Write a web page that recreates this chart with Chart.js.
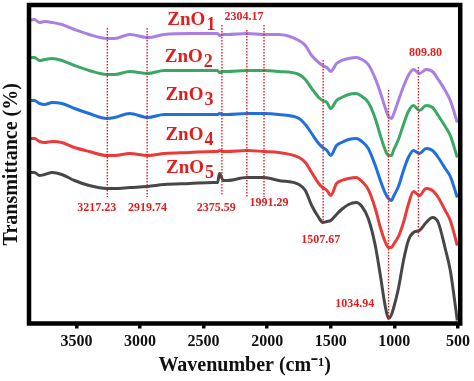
<!DOCTYPE html>
<html>
<head>
<meta charset="utf-8">
<script src="https://cdn.jsdelivr.net/npm/chart.js@4"></script>
<style>
  html, body { margin: 0; padding: 0; background: #fff; }
  #wrap { width: 474px; height: 381px; position: relative; }
</style>
</head>
<body>
<div id="wrap"><canvas id="c" width="474" height="381"></canvas></div>
<script>
// ---------- data ----------
const wavenumbers = [3880, 3830, 3790, 3750, 3690, 3615, 3515, 3400, 3260, 3200,
  3080, 2940, 2810, 2610, 2420, 2390, 2375, 2345, 2315, 2160,
  2025, 1910, 1750, 1700, 1650, 1595, 1563, 1530, 1500, 1455,
  1415, 1360, 1300, 1255, 1205, 1150, 1110, 1070, 1046, 1022,
  1007, 968, 928, 890, 850, 803, 750, 700, 655, 600,
  560, 505];

const zno1 = [303, 304, 301, 302, 301, 299, 294, 289, 285, 285,
  289, 286, 289, 290, 290, 290, 288, 289, 289, 290,
  289, 289, 283, 278, 268, 261, 258, 256, 252, 260,
  263, 265, 266, 264, 259, 245, 231, 215, 207, 205,
  209, 223, 237, 248, 254, 250, 254, 252, 244, 233,
  223, 201];
const zno2 = [266, 266, 263, 264, 265, 263, 258, 253, 249, 249,
  252, 250, 253, 253, 253, 253, 251, 252, 252, 253,
  253, 252, 249, 244, 235, 226, 223, 221, 215, 223,
  226, 229, 230, 227, 221, 205, 188, 173, 168, 168,
  173, 184, 199, 212, 218, 213, 218, 216, 208, 197,
  188, 166];
const zno3 = [223, 223, 220, 219, 221, 220, 215, 210, 205, 206,
  210, 206, 209, 209, 209, 209, 210, 209, 209, 210,
  210, 209, 205, 199, 190, 180, 176, 173, 168, 178,
  181, 184, 185, 182, 175, 158, 143, 130, 125, 123,
  127, 137, 153, 166, 173, 170, 175, 173, 166, 155,
  147, 126];
const zno4 = [185, 185, 182, 181, 182, 181, 176, 172, 168, 168,
  170, 168, 170, 171, 172, 172, 173, 172, 172, 173,
  172, 171, 166, 161, 151, 140, 136, 133, 128, 140,
  143, 145, 146, 142, 134, 115, 96, 81, 76, 76,
  79, 87, 101, 119, 132, 128, 135, 133, 126, 113,
  103, 78];
const zno5 = [151, 151, 148, 149, 151, 149, 143, 138, 135, 135,
  136, 137, 139, 140, 141, 141, 150, 143, 143, 146,
  146, 143, 139, 133, 118, 106, 101, 102, 103, 109,
  114, 119, 121, 117, 105, 78, 48, 16, 5, 9,
  15, 35, 63, 83, 91, 93, 101, 106, 101, 75,
  53, 3];

const seriesNames = ['ZnO1', 'ZnO2', 'ZnO3', 'ZnO4', 'ZnO5'];
const xTicks = [3500, 3000, 2500, 2000, 1500, 1000, 500];

// peak labels and the wavenumber where each dotted guide line is drawn
const peakLabels = ['3217.23', '2919.74', '2375.59', '2304.17', '1991.29', '1507.67', '1034.94', '809.80'];
const peakLines = [3257, 2944, 2356, 2160, 2025, 1560, 1046, 811];

// ---------- annotation layout (data coordinates) ----------
const layoutCfg = {
  lineSpan: [[295.5, 126.5], [295.5, 126.5], [298.5, 128.5], [293.5, 126.5],
             [298.5, 126.5], [263.5, 100.5], [233.5, 0], [256.5, 86.5]],
  labelAt: [[3341, 115.5], [2941, 115.5], [2401, 115.5], [2182, 306.5],
            [1986, 120.5], [1579, 83.5], [1312, 19.5], [756, 270.5]],
  nameAt: [[2785, 298.5], [2805, 261.5], [2800, 223.5], [2800, 183.5], [2795, 150.5]]
};

const colors = ['#a97fe3', '#3aa865', '#1f6fdc', '#ea3b3b', '#474747'];
const red = '#e01e1e';
const serif = '"Liberation Serif", "Times New Roman", serif';

const seriesData = [zno1, zno2, zno3, zno4, zno5];
const datasets = seriesData.map((vals, i) => ({
  label: seriesNames[i],
  data: wavenumbers.map((w, k) => ({ x: w, y: vals[k] })),
  borderColor: colors[i],
  borderWidth: 3,
  pointRadius: 0,
  tension: 0.25,
  cubicInterpolationMode: 'monotone',
  fill: false,
  order: 2
}));
peakLines.forEach((w, i) => {
  datasets.push({
    label: 'peak ' + peakLabels[i],
    data: [{ x: w, y: layoutCfg.lineSpan[i][0] }, { x: w, y: layoutCfg.lineSpan[i][1] }],
    borderColor: red,
    borderWidth: 1.4,
    borderDash: [1.5, 1.5],
    pointRadius: 0,
    fill: false,
    order: 1
  });
});

const annot = {
  id: 'annot',
  afterDatasetsDraw(chart) {
    const { ctx } = chart;
    const x = chart.scales.x, y = chart.scales.y;
    ctx.save();
    ctx.fillStyle = red;
    ctx.font = 'bold 12px ' + serif;
    ctx.textAlign = 'center';
    ctx.textBaseline = 'middle';
    peakLabels.forEach((t, i) => {
      ctx.fillText(t, x.getPixelForValue(layoutCfg.labelAt[i][0]), y.getPixelForValue(layoutCfg.labelAt[i][1]));
    });
    ctx.textAlign = 'left';
    ctx.textBaseline = 'alphabetic';
    seriesNames.forEach((n, i) => {
      const base = n.slice(0, 3), sub = n.slice(3);
      const px = x.getPixelForValue(layoutCfg.nameAt[i][0]);
      const py = y.getPixelForValue(layoutCfg.nameAt[i][1]);
      ctx.font = 'bold 19px ' + serif;
      ctx.fillText(base, px, py);
      const w = ctx.measureText(base).width;
      ctx.font = 'bold 18px ' + serif;
      ctx.fillText(sub, px + w + 1, py + 5);
    });
    ctx.restore();
  },
  afterDraw(chart) {
    const { ctx, chartArea: a } = chart;
    ctx.save();
    ctx.strokeStyle = '#000';
    ctx.lineWidth = 4.5;
    ctx.lineCap = 'square';
    ctx.beginPath();
    ctx.moveTo(a.left, a.top); ctx.lineTo(a.right, a.top);
    ctx.lineTo(a.right, a.bottom); ctx.lineTo(a.left, a.bottom);
    ctx.closePath();
    ctx.stroke();
    ctx.restore();
  }
};

new Chart(document.getElementById('c'), {
  type: 'line',
  data: { datasets },
  plugins: [annot],
  options: {
    responsive: false,
    animation: false,
    devicePixelRatio: 1,
    layout: { padding: { left: 0, right: 12, top: 5, bottom: 0 } },
    plugins: { legend: { display: false }, tooltip: { enabled: false } },
    scales: {
      x: {
        type: 'linear',
        reverse: true,
        min: 482,
        max: 3873,
        afterFit: s => { s.height = 57.5; },
        afterBuildTicks: s => { s.ticks = xTicks.map(v => ({ value: v })); },
        border: { display: false },
        grid: { drawOnChartArea: false, drawTicks: true, tickLength: 5, lineWidth: 3.5, color: '#000' },
        ticks: {
          color: '#111',
          padding: 4,
          maxRotation: 0,
          autoSkip: false,
          callback: v => String(v),
          font: { family: serif, size: 16, weight: 'bold' }
        },
        title: {
          display: true,
          text: 'Wavenumber (cm⁻¹)',
          color: '#111',
          padding: { top: 0, bottom: 3 },
          font: { family: serif, size: 20, weight: 'bold' }
        }
      },
      y: {
        type: 'linear',
        min: 0,
        max: 318.5,
        afterFit: s => { s.width = 29; },
        border: { display: false },
        grid: { display: false },
        ticks: { display: false },
        title: {
          display: true,
          text: 'Transmittance (%)',
          color: '#111',
          padding: { top: 0, bottom: 0 },
          font: { family: serif, size: 20, weight: 'bold' }
        }
      }
    }
  }
});
</script>
</body>
</html>
